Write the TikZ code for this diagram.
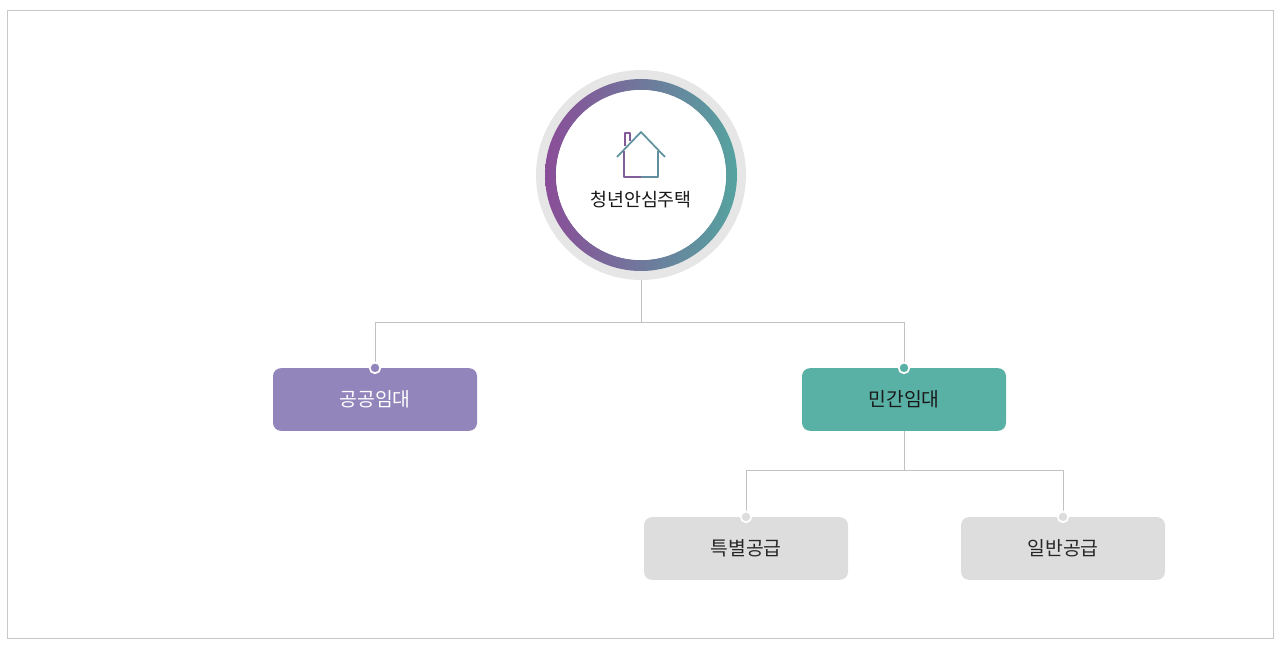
\documentclass[tikz,border=0pt]{standalone}
\usepackage{fontspec}
\setmainfont{Noto Sans CJK KR}
\definecolor{framegray}{HTML}{C8C8C8}
\definecolor{linegray}{HTML}{C2C2C2}
\definecolor{ringgray}{HTML}{E6E6E6}
\definecolor{ringpurple}{HTML}{8A4D98}
\definecolor{ringteal}{HTML}{55A3A0}
\definecolor{boxpurple}{HTML}{9185BB}
\definecolor{boxteal}{HTML}{59B1A5}
\definecolor{boxgray}{HTML}{DDDDDD}
\tikzset{
	box/.style={rectangle, rounded corners=6pt, minimum width=153pt, minimum height=47pt, font=\fontsize{14.5}{16}\selectfont},
	conn/.style={draw=linegray, line width=0.75pt},
	pin/.style={circle, draw=white, line width=1.3pt, inner sep=0pt, minimum size=8pt}
}
\begin{document}
\begin{tikzpicture}[x=0.75pt, y=-0.75pt]
	\useasboundingbox (0,0) rectangle (1280,648);
	\draw[framegray, line width=0.75pt] (7,11) rectangle (1273,638);
	
	% Kreis oben
	\node[circle, fill=ringgray, minimum size=157.5pt, inner sep=0pt] (root) at (641,175) {};
	\shade[even odd rule, left color=ringpurple, right color=ringteal] (root.center) circle (96) (root.center) circle (85);
	\fill[white] (root.center) circle (85);
	\draw[ringpurple!85!ringteal, line width=1.3pt, line join=round] (625,146) -- (625,133) -- (630,133) -- (630,141);
	\draw[ringteal!80!ringpurple, line width=1.3pt, line join=round] (617,157) -- (641,132) -- (665,157);
	\draw[ringpurple!80!ringteal, line width=1.3pt, line join=round] (624,151) -- (624,177) -- (641,177);
	\draw[ringteal!75!ringpurple, line width=1.3pt, line join=round] (641,177) -- (658,177) -- (658,151);
	\node[font=\fontsize{13.8}{15}\selectfont, text=black!90] (title) at (641,200) {청년안심주택};
	
	% Kaesten
	\node[box, fill=boxpurple, text=white] (gongong) at (375,399.5) {공공임대};
	\node[box, fill=boxteal, text=black!90] (mingan) at (904,399.5) {민간임대};
	\node[box, fill=boxgray, text=black!85] (teukbyeol) at (746,548.5) {특별공급};
	\node[box, fill=boxgray, text=black!85] (ilban) at (1063,548.5) {일반공급};
	
	% Verbindungen
	\draw[conn] (root.south) -- ++(0,42) -| (gongong.north);
	\draw[conn] (root.south) -- ++(0,42) -| (mingan.north);
	\draw[conn] (mingan.south) -- ++(0,39) -| (teukbyeol.north);
	\draw[conn] (mingan.south) -- ++(0,39) -| (ilban.north);
	
	\node[pin, fill=boxpurple] (p1) at (gongong.north) {};
	\node[pin, fill=boxteal] (p2) at (mingan.north) {};
	\node[pin, fill=boxgray] (p3) at (teukbyeol.north) {};
	\node[pin, fill=boxgray] (p4) at (ilban.north) {};
\end{tikzpicture}
\end{document}
